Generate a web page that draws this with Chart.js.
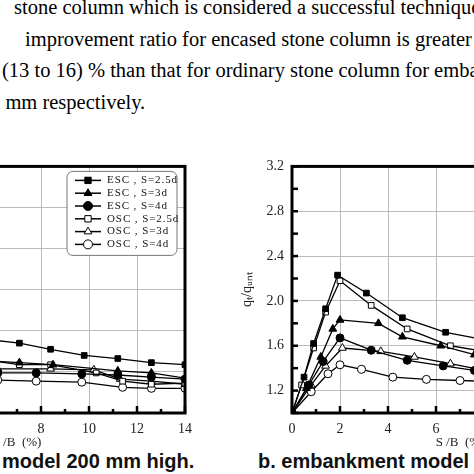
<!DOCTYPE html>
<html><head><meta charset="utf-8">
<script src="https://cdn.jsdelivr.net/npm/chart.js@4/dist/chart.umd.min.js"></script>
<style>
body{margin:0;width:474px;height:474px;overflow:hidden;position:relative;background:#fff}
.t{position:absolute;white-space:nowrap;font-family:"Liberation Serif",serif;font-size:20.5px;color:#000}
.cap{position:absolute;white-space:nowrap;font-family:"Liberation Sans",Arial,sans-serif;font-weight:bold;font-size:20px;color:#111}
canvas{position:absolute}
</style></head><body>
<div class="t" style="left:14px;top:-4px">stone column which is considered a successful technique</div>
<div class="t" style="left:25px;top:28px">improvement ratio for encased stone column is greater than</div>
<div class="t" style="left:2px;top:59px">(13 to 16) % than that for ordinary stone column for embankment</div>
<div class="t" style="left:-10px;top:91px">0 mm respectively.</div>
<div class="cap" style="left:2px;top:450px">model 200 mm high.</div>
<div class="cap" style="left:258px;top:450px">b. embankment model</div>
<div style="position:absolute;left:-220px;top:150px;width:420px;height:300px"><canvas id="izq"></canvas></div>
<div style="position:absolute;left:237px;top:150px;width:406px;height:300px"><canvas id="der"></canvas></div>
<script>
document.addEventListener("DOMContentLoaded", function(){

const SERIES=['ESC, S=2.5d','ESC, S=3d','ESC, S=4d','OSC, S=2.5d','OSC, S=3d','OSC, S=4d'];
const ESTILO=['rect','triangle','circle','rect','triangle','circle'];
const RELLENO=['#000','#000','#000','#fff','#fff','#fff'];

// a. (izquierda) S/B, q/qunt
const A_ESC25=[[0,1],[1,1.45],[2,1.95],[4.2,1.8],[5.6,1.72],[7.1,1.68],[8.4,1.62],[9.8,1.56],[11.2,1.53],[12.6,1.49],[14,1.47]];
const A_ESC3=[[0,1],[1,1.3],[2,1.6],[4.2,1.55],[5.6,1.51],[7.1,1.49],[8.5,1.47],[11.2,1.41],[12.6,1.39],[14,1.34]];
const A_ESC4=[[0,1],[1,1.25],[2,1.45],[4.2,1.41],[6.2,1.39],[7.8,1.39],[9.7,1.38],[11.2,1.37],[12.6,1.35],[14,1.33]];
const A_OSC25=[[0,1],[1,1.35],[2,1.75],[4.2,1.6],[5.6,1.52],[7.1,1.47],[8.4,1.47],[10.3,1.39],[11.4,1.31],[12.6,1.28],[14,1.29]];
const A_OSC3=[[0,1],[1,1.2],[2,1.45],[4.2,1.45],[6.2,1.43],[8.4,1.43],[10.2,1.42],[11.3,1.33],[12.6,1.31],[14,1.28]];
const A_OSC4=[[0,1],[1,1.15],[2,1.35],[4.2,1.33],[6.2,1.32],[7.8,1.31],[9.7,1.30],[11.4,1.25],[12.6,1.24],[14,1.24]];

// b. (derecha)
const B_ESC25=[[0,1],[0.5,1.32],[0.9,1.62],[1.4,1.93],[1.9,2.23],[3.1,2.07],[4.6,1.85],[6.4,1.72],[8.1,1.65],[10,1.6]];
const B_ESC3=[[0,1],[0.6,1.22],[1.2,1.5],[1.7,1.75],[2,1.83],[3.6,1.8],[4.6,1.68],[6.2,1.6],[7.6,1.52],[9.5,1.48]];
const B_ESC4=[[0,1],[0.7,1.25],[1.3,1.46],[2,1.67],[3.3,1.56],[4.8,1.47],[6.3,1.42],[7.6,1.38],[9.5,1.35]];
const B_OSC25=[[0,1],[0.4,1.25],[0.9,1.58],[1.4,1.9],[2,2.18],[3.3,1.96],[4.8,1.75],[6.6,1.6],[8,1.55],[9.8,1.5]];
const B_OSC3=[[0,1],[0.8,1.25],[1.4,1.42],[2.1,1.58],[3.7,1.55],[5.1,1.5],[6.6,1.44],[8,1.38],[9.6,1.36]];
const B_OSC4=[[0,1],[0.8,1.19],[1.5,1.35],[2,1.43],[2.9,1.39],[4.2,1.32],[5.6,1.3],[7,1.29],[8.5,1.28],[10,1.27]];

const TICKS_X=[0,2,4,6,8,10,12,14];
const TICKS_Y_A=[1.4,1.8,2.2,2.6,3.0];
const TICKS_Y_B=[1.2,1.6,2,2.4,2.8,3.2];

const SERIF='"Liberation Serif", serif';

const sets=arr=>arr.map((d,i)=>({
 label:SERIES[i],
 data:d.map(p=>({x:p[0],y:p[1]})),
 borderColor:'#000',borderWidth:1.3,
 pointStyle:ESTILO[i],pointRadius:i%3===1?4.5:4,
 pointBackgroundColor:RELLENO[i],pointBorderColor:'#000',pointBorderWidth:1,
 tension:0
}));

const marcas={id:'marcas',afterDatasetsDraw(c){
 const ctx=c.ctx,sx=c.scales.x,sy=c.scales.y,a=c.chartArea;
 ctx.save();ctx.strokeStyle='#000';
 for(let v=sx.min;v<=sx.max;v+=1){
  const p=sx.getPixelForValue(v);ctx.lineWidth=2.5;
  ctx.beginPath();ctx.moveTo(p,a.bottom);ctx.lineTo(p,a.bottom-(v%2===0?7:4));ctx.stroke();
 }
 for(let v=sy.min;v<=sy.max+1e-6;v+=0.2){
  const p=sy.getPixelForValue(v);ctx.lineWidth=2.5;
  ctx.beginPath();ctx.moveTo(a.left,p);ctx.lineTo(a.left+6,p);ctx.stroke();
 }
 ctx.lineWidth=3;ctx.strokeRect(a.left,a.top,a.right-a.left,a.bottom-a.top);
 ctx.restore();
}};

const leyenda={id:'leyenda',afterDraw(c){
 if(c.canvas.id!=='izq') return;
 const ctx=c.ctx,x0=c.chartArea.right-118,y0=c.chartArea.top+5;
 ctx.save();
 ctx.fillStyle='#fff';ctx.strokeStyle='#777';ctx.lineWidth=1;
 ctx.beginPath();ctx.roundRect(x0,y0,110,84,6);ctx.fill();ctx.stroke();
 ctx.font='11px '+SERIF;ctx.textBaseline='middle';
 c.data.datasets.forEach((ds,i)=>{
  const y=y0+9+i*12.8;
  ctx.strokeStyle='#000';ctx.lineWidth=1.5;
  ctx.beginPath();ctx.moveTo(x0+8,y);ctx.lineTo(x0+34,y);ctx.stroke();
  ctx.fillStyle=ds.pointBackgroundColor;ctx.lineWidth=1;
  Chart.helpers.drawPoint(ctx,{pointStyle:ds.pointStyle,radius:4.5,rotation:0,borderWidth:1},x0+21,y);
  ctx.fillStyle='#111';ctx.fillText(ds.label.replace(/,/,' ,').split('').join('\u200A'),x0+40,y);
 });
 ctx.restore();
}};

function crear(id,datos,ticksY,yW){
 return new Chart(document.getElementById(id),{
  type:'line',
  data:{datasets:sets(datos)},
  plugins:[marcas,leyenda],
  options:{
   responsive:true,maintainAspectRatio:false,animation:false,
   layout:{padding:{top:8,right:15}},
   plugins:{legend:{display:false},tooltip:{enabled:false}},
   scales:{
    x:{type:'linear',min:0,max:14,
     afterBuildTicks:s=>{s.ticks=TICKS_X.map(v=>({value:v}));},
     afterFit:s=>{s.height=37;},
     grid:{color:'#bbb',drawTicks:false},border:{display:false},
     ticks:{color:'#222',font:{family:SERIF,size:14},padding:8},
     title:{display:true,text:'S /B  (%)',color:'#222',font:{family:SERIF,size:13},padding:0}},
    y:{type:'linear',min:1,max:ticksY===TICKS_Y_B?3.2:3.4,
     afterBuildTicks:s=>{s.ticks=ticksY.map(v=>({value:v}));},
     afterFit:s=>{s.width=yW;},
     grid:{color:'#bbb',drawTicks:false},border:{display:false},
     ticks:{color:'#222',font:{family:SERIF,size:14},padding:8},
     title:{display:true,text:'q\u209C/q\u1D64\u2099\u209C',color:'#222',font:{family:SERIF,size:14},padding:2}}
   }
  }
 });
}

crear('izq',[A_ESC25,A_ESC3,A_ESC4,A_OSC25,A_OSC3,A_OSC4],TICKS_Y_A,69);
crear('der',[B_ESC25,B_ESC3,B_ESC4,B_OSC25,B_OSC3,B_OSC4],TICKS_Y_B,55);

});
</script>
</body></html>
